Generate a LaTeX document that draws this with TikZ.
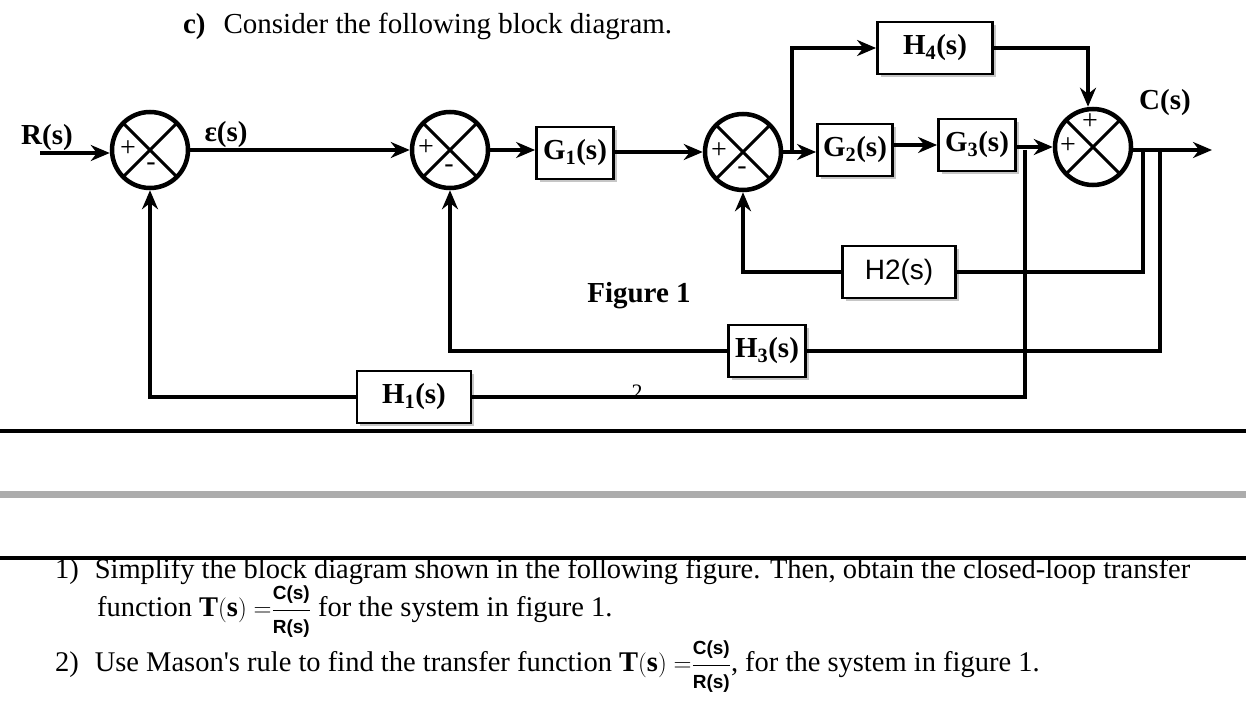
\documentclass[tikz,border=0pt]{standalone}
\usepackage{fontspec}
\setmainfont{Liberation Serif}
\setsansfont{Liberation Sans}
\usetikzlibrary{arrows.meta,shadows}
\newcommand{\myfrac}{\ensuremath{\displaystyle\frac{\textsf{\textbf{\fontsize{19}{19}\selectfont C(s)}}}{\textsf{\textbf{\fontsize{19}{19}\selectfont R(s)}}}}}
\begin{document}
\begin{tikzpicture}[x=1pt,y=-1pt,
  line width=3.4pt,
  arr/.style={-{Stealth[length=19pt,width=16pt]}},
  blk/.style={draw,line width=2.8pt,fill=white,minimum height=52pt,inner sep=2pt,
    font=\fontsize{29}{32}\selectfont\bfseries,
    drop shadow={shadow xshift=3pt,shadow yshift=-3pt,opacity=0.45,fill=gray}},
  sum/.style={circle,draw,line width=4.5pt,minimum size=76pt,inner sep=0pt,fill=white,
    path picture={\draw[line width=3pt]
      (path picture bounding box.north west)--(path picture bounding box.south east)
      (path picture bounding box.north east)--(path picture bounding box.south west);}},
  sgn/.style={font=\fontsize{28}{28}\selectfont},
  lbl/.style={font=\fontsize{29}{32}\selectfont\bfseries}
]
\useasboundingbox (0,0) rectangle (1246,703);
% title
\node[anchor=west,font=\fontsize{29}{32}\selectfont] (title) at (178,26) {\textbf{c)}\hspace{18pt}Consider the following block diagram.};
% summing junctions
\node[sum] (s1) at (150,150) {};
\node[sum] (s2) at (450,150) {};
\node[sum] (s3) at (743,152) {};
\node[sum] (s4) at (1093,147) {};
\node[sgn] (p1) at (128,149) {+};
\node[sgn] (m1) at (151,167) {-};
\node[sgn] (p2) at (426,148) {+};
\node[sgn] (m2) at (449,169) {-};
\node[sgn] (p3) at (719,151) {+};
\node[sgn] (m3) at (742,171) {-};
\node[sgn] (p4) at (1090,122) {+};
\node[sgn] (p5) at (1068,146) {+};
% blocks
\node[blk,minimum width=77pt] (G1) at (575,153) {G\textsubscript{1}(s)};
\node[blk,minimum width=75pt] (G2) at (855,150) {G\textsubscript{2}(s)};
\node[blk,minimum width=77pt] (G3) at (977,145) {G\textsubscript{3}(s)};
\node[blk,minimum width=115pt] (H4) at (935,48) {H\textsubscript{4}(s)};
\node[blk,minimum width=113pt,font=\fontsize{28}{30}\selectfont\sffamily] (H2) at (899,272) {H2(s)};
\node[blk,minimum width=77pt] (H3) at (767,351) {H\textsubscript{3}(s)};
\node[blk,minimum width=114pt] (H1) at (414,397) {H\textsubscript{1}(s)};
% labels
\node[lbl] (R) at (47,138) {R(s)};
\node[lbl] (E) at (226,135) {ε(s)};
\node[lbl] (C) at (1165,103) {C(s)};
\node[lbl] (fig) at (639,296) {Figure 1};
\node[font=\fontsize{22}{22}\selectfont] (two) at (637,392) {2};
% coordinates
\coordinate (rin) at (40,153);
\coordinate (b1) at (792,153);
\coordinate (b1u) at (792,48);
\coordinate (h4c) at (1088,48);
\coordinate (out) at (1212,150);
\coordinate (b2) at (1143,150);
\coordinate (b3) at (1160,150);
\coordinate (b4) at (1025,150);
% forward path
\draw[arr] (rin) -- (s1.west |- rin);
\draw[arr] (s1.east) -- (s2.west);
\draw[arr] (s2.east) -- (G1.west |- s2.east);
\draw[arr] (G1.east |- s3.west) -- (s3.west);
\draw[arr] (s3.east) -- (G2.west |- s3.east);
\draw[arr] (b1) -- (b1u) -- (H4.west);
\draw[arr] (H4.east) -- (h4c) -- (s4.north -| h4c);
\draw[arr] (G2.east |- G3.west) -- (G3.west);
\draw[arr] (G3.east |- s4.west) -- (s4.west);
\draw[arr] (s4.east |- out) -- (out);
% feedback loops
\draw (b2) -- (b2 |- H2.east) -- (H2.east);
\draw[arr] (H2.west) -- (s3.south |- H2.west) -- (s3.south);
\draw (b3) -- (b3 |- H3.east) -- (H3.east);
\draw[arr] (H3.west) -- (s2.south |- H3.west) -- (s2.south);
\draw (b4) -- (b4 |- H1.east) -- (H1.east);
\draw[arr] (H1.west) -- (s1.south |- H1.west) -- (s1.south);
% separators
\draw[line width=4.5pt] (0,431) -- (1246,431);
\draw[line width=7pt,gray!65] (0,494) -- (1246,494);
% questions
\node[anchor=west,font=\fontsize{28.5}{32}\selectfont] (q1) at (50,572) {1)\hspace{16pt}Simplify the block diagram shown in the following figure. Then, obtain the closed-loop transfer};
\node[anchor=west,font=\fontsize{28.5}{32}\selectfont] (q1b) at (92,612) {function $\mathbf{T}(\mathbf{s})=$\myfrac{} for the system in figure 1.};
\node[anchor=west,font=\fontsize{28.5}{32}\selectfont] (q2) at (50,667) {2)\hspace{16pt}Use Mason\textquotesingle s rule to find the transfer function $\mathbf{T}(\mathbf{s})=$\myfrac, for the system in figure 1.};
\draw[line width=3.5pt] (0,558) -- (1246,558);
\end{tikzpicture}
\end{document}
